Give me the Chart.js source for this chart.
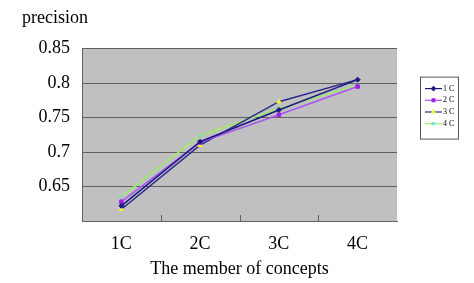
<!DOCTYPE html>
<html>
<head>
<meta charset="utf-8">
<script src="https://cdn.jsdelivr.net/npm/chart.js@4"></script>
<style>
  body{margin:0;background:#fff;}
  #wrap{width:474px;height:283px;position:relative;}
</style>
</head>
<body>
<div id="wrap"><canvas id="precisionChart"></canvas></div>
<script>
// chart data
const categories = ['1C', '2C', '3C', '4C'];
const seriesNames = ['1 C', '2 C', '3 C', '4 C'];
const series1C = [0.622, 0.715, 0.761, 0.805];
const series2C = [0.628, 0.714, 0.754, 0.795];
const series3C = [0.617, 0.710, 0.773, 0.805];
const series4C = [0.635, 0.724, 0.763, 0.797];
const yTicks = [0.65, 0.7, 0.75, 0.8, 0.85];

const serif = "'Liberation Serif', 'Times New Roman', serif";

// grey plot background
const plotBackground = {
    id: 'plotBackground',
    beforeDraw(chart){
        const a = chart.chartArea;
        const ctx = chart.ctx;
        ctx.save();
        ctx.fillStyle = '#c0c0c0';
        ctx.fillRect(a.left, a.top, a.width, a.height);
        ctx.restore();
    }
};

// small inward tick marks between categories on the x axis
const innerTicks = {
    id: 'innerTicks',
    afterDatasetsDraw(chart){
        const x = chart.scales.x;
        const a = chart.chartArea;
        const ctx = chart.ctx;
        ctx.save();
        ctx.strokeStyle = '#606060';
        ctx.lineWidth = 1;
        for(let i = 1; i < categories.length; i++){
            const px = Math.round((x.getPixelForValue(i - 1) + x.getPixelForValue(i)) / 2) + 0.5;
            ctx.beginPath();
            ctx.moveTo(px, a.bottom);
            ctx.lineTo(px, a.bottom - 6);
            ctx.stroke();
        }
        ctx.restore();
    }
};

// boxed legend with line + marker samples
const boxLegend = {
    id: 'boxLegend',
    afterDraw(chart){
        const ctx = chart.ctx;
        const a = chart.chartArea;
        const left = a.right + 23;
        const top = a.top + 28;
        const w = 38, h = 62;
        ctx.save();
        ctx.fillStyle = '#fff';
        ctx.fillRect(left, top, w, h);
        ctx.strokeStyle = '#555';
        ctx.lineWidth = 1;
        ctx.strokeRect(left + 0.5, top + 0.5, w, h);
        chart.data.datasets.forEach((ds, i) => {
            const y = top + 12 + i * 11.7;
            ctx.strokeStyle = ds.borderColor;
            ctx.lineWidth = 1.2;
            ctx.beginPath();
            ctx.moveTo(left + 5, y);
            ctx.lineTo(left + 22, y);
            ctx.stroke();
            ctx.fillStyle = ds.pointBackgroundColor;
            ctx.strokeStyle = ds.pointBorderColor;
            Chart.helpers.drawPoint(ctx, {pointStyle: ds.pointStyle, radius: 2, borderWidth: 1}, left + 13.5, y);
            ctx.fillStyle = '#000';
            ctx.font = '8px ' + serif;
            ctx.textBaseline = 'middle';
            ctx.fillText(ds.label, left + 23, y);
        });
        ctx.restore();
    }
};

function makeSet(label, data, line, marker, style){
    return {
        label: label,
        data: data,
        borderColor: line,
        backgroundColor: line,
        pointBackgroundColor: marker,
        pointBorderColor: marker,
        pointStyle: style,
        pointRadius: 2.5,
        pointBorderWidth: 1,
        borderWidth: 1.5,
        tension: 0
    };
}

const ctx = document.getElementById('precisionChart').getContext('2d');
const myChart = new Chart(ctx, {
    type: 'line',
    data: {
        labels: categories,
        datasets: [
            makeSet(seriesNames[0], series1C, '#1a1a80', '#1a1a80', 'rectRot'),
            makeSet(seriesNames[1], series2C, '#a855f0', '#a020f0', 'rect'),
            makeSet(seriesNames[2], series3C, '#2a2a8c', '#f0f040', 'triangle'),
            makeSet(seriesNames[3], series4C, '#99ee66', '#66e0e0', 'crossRot')
        ]
    },
    plugins: [plotBackground, innerTicks, boxLegend],
    options: {
        responsive: true,
        maintainAspectRatio: false,
        animation: false,
        layout: {
            padding: {left: 22, right: 77, top: 0, bottom: 5}
        },
        plugins: {
            legend: {display: false},
            tooltip: {enabled: false},
            title: {
                display: true,
                text: 'precision',
                align: 'start',
                color: '#000',
                font: {family: serif, size: 18, weight: 'normal'},
                padding: {top: 7, bottom: 20}
            }
        },
        scales: {
            x: {
                offset: true,
                grid: {display: false, drawTicks: false},
                border: {display: true, color: '#606060', width: 1},
                ticks: {
                    color: '#000',
                    padding: 14,
                    font: {family: serif, size: 18, lineHeight: 1}
                },
                title: {
                    display: true,
                    text: 'The member of concepts',
                    color: '#000',
                    padding: {top: -7, bottom: 0},
                    font: {family: serif, size: 18, lineHeight: 1}
                }
            },
            y: {
                min: 0.6,
                max: 0.85,
                afterFit(scale){ scale.width = 60; },
                afterBuildTicks(scale){
                    scale.ticks = [0.6].concat(yTicks).map(v => ({value: v}));
                },
                grid: {
                    color: '#606060',
                    lineWidth: 1,
                    drawTicks: false
                },
                border: {display: true, color: '#606060', width: 1},
                ticks: {
                    color: '#000',
                    padding: 12,
                    font: {family: serif, size: 18},
                    callback: v => yTicks.includes(v) ? String(v) : ''
                }
            }
        }
    }
});
</script>
</body>
</html>
